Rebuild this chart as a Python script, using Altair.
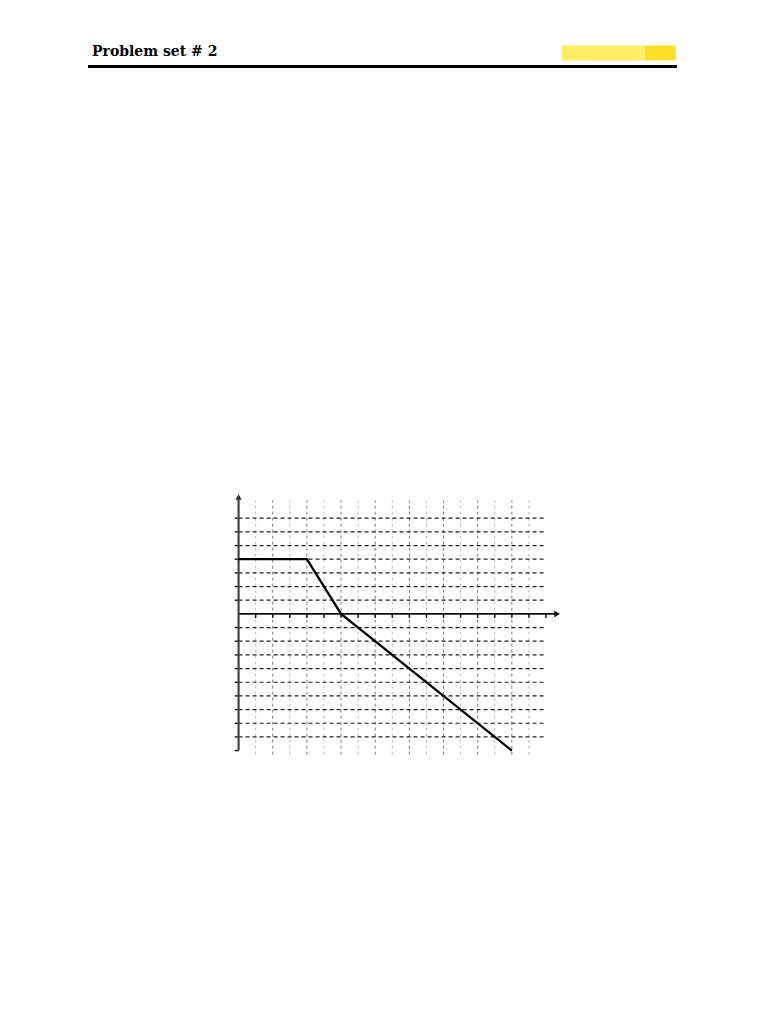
import altair as alt
import pandas as pd

# ---- data (grid units) ----
line_x = [0, 4, 6, 16]
line_y = [4, 4, 0, -10]

vgrid_x = list(range(1, 18))            # vertical dashed grid lines
hgrid_y = [v for v in range(-9, 8) if v != 0]   # horizontal dashed grid lines
xtick_x = list(range(1, 19))
ytick_y = [v for v in range(-10, 8) if v != 0]

header_text = "Problem set # 2"

# ---- scales ----
XD = [-13.50, 30.53]
YD = [-28.83, 44.32]
W, H = 752, 1000

def X(f):
    return alt.X(f, type="quantitative", scale=alt.Scale(domain=XD, nice=False, zero=False), axis=None)

def Y(f):
    return alt.Y(f, type="quantitative", scale=alt.Scale(domain=YD, nice=False, zero=False), axis=None)

def X2(f):
    return alt.X2(f)

def Y2(f):
    return alt.Y2(f)

vg = pd.DataFrame({"x": vgrid_x, "y0": -10.3, "y1": 8.3,
                   "c": ["even" if v % 2 == 0 else "odd" for v in vgrid_x]})
hg = pd.DataFrame({"y": hgrid_y, "x0": 0, "x1": 18})
xt = pd.DataFrame({"x": xtick_x, "y0": 0, "y1": -0.3})
yt = pd.DataFrame({"y": ytick_y, "x0": -0.22, "x1": 0})
ln = pd.DataFrame({"x": line_x, "y": line_y, "o": range(len(line_x))})
ax_x = pd.DataFrame({"x0": [0], "x1": [18.7], "y": [0]})
ax_y = pd.DataFrame({"y0": [-10], "y1": [8.6], "x": [0]})
arr_r = pd.DataFrame({"x": [18.65], "y": [0]})
arr_u = pd.DataFrame({"x": [0], "y": [8.55]})

vgrid = alt.Chart(vg).mark_rule(strokeDash=[3, 3], strokeWidth=1).encode(
    x=X("x"), y=Y("y0"), y2=Y2("y1"),
    color=alt.Color("c:N", scale=alt.Scale(domain=["even", "odd"], range=["#7a7a7a", "#bdbdbd"]), legend=None),
)
hgrid = alt.Chart(hg).mark_rule(strokeDash=[4, 3], strokeWidth=1.2, color="#1e1e1e").encode(
    y=Y("y"), x=X("x0"), x2=X2("x1")
)
xticks = alt.Chart(xt).mark_rule(strokeWidth=1.4, color="#111111").encode(
    x=X("x"), y=Y("y0"), y2=Y2("y1")
)
yticks = alt.Chart(yt).mark_rule(strokeWidth=1.4, color="#111111").encode(
    y=Y("y"), x=X("x0"), x2=X2("x1")
)
xaxis = alt.Chart(ax_x).mark_rule(strokeWidth=1.8, color="#111111").encode(
    y=Y("y"), x=X("x0"), x2=X2("x1")
)
yaxis = alt.Chart(ax_y).mark_rule(strokeWidth=2.2, color="#444444").encode(
    x=X("x"), y=Y("y0"), y2=Y2("y1")
)
arrow_r = alt.Chart(arr_r).mark_point(shape="triangle-right", filled=True, size=45, color="#111111", opacity=1).encode(
    x=X("x"), y=Y("y")
)
arrow_u = alt.Chart(arr_u).mark_point(shape="triangle-up", filled=True, size=40, color="#333333", opacity=1).encode(
    x=X("x"), y=Y("y")
)
curve = alt.Chart(ln).mark_line(strokeWidth=2.3, color="#000000").encode(
    x=X("x"), y=Y("y"), order="o:Q"
)

# header decorations (page furniture, not data)
hdr = pd.DataFrame({"t": [header_text]})
title = alt.Chart(hdr).mark_text(
    font="DejaVu Serif", fontWeight="bold", fontSize=14, align="left", baseline="alphabetic", color="#000000"
).encode(x=alt.value(84), y=alt.value(48), text="t:N")
hrule = alt.Chart(hdr).mark_rule(strokeWidth=3, color="#000000").encode(
    x=alt.value(80), x2=alt.value(669), y=alt.value(58.5)
)
ylw1 = alt.Chart(hdr).mark_rect(color="#FFEE66").encode(
    x=alt.value(554), x2=alt.value(637), y=alt.value(37.5), y2=alt.value(52.5)
)
ylw2 = alt.Chart(hdr).mark_rect(color="#FFDF2A").encode(
    x=alt.value(637), x2=alt.value(668), y=alt.value(37.5), y2=alt.value(52.5)
)

chart = alt.layer(
    vgrid, hgrid, xticks, yticks, xaxis, yaxis, arrow_r, arrow_u, curve,
    title, hrule, ylw1, ylw2
).properties(
    width=W, height=H, padding=0, background="white",
    autosize=alt.AutoSizeParams(type="none")
).configure_view(stroke=None)

chart.save("out.html", embed_options={"renderer": "svg", "actions": False})
